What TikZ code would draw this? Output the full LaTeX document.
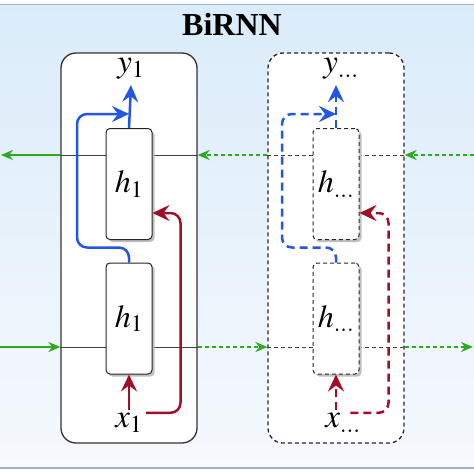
\documentclass[tikz,border=0pt]{standalone}
\usepackage{mathptmx}
\usepackage{fontspec}
\setmainfont{Liberation Serif}
\usetikzlibrary{arrows.meta,shadows,positioning,calc}

\definecolor{skytop}{RGB}{218,236,250}
\definecolor{skybot}{RGB}{246,249,253}
\definecolor{rimblue}{RGB}{160,180,210}
\definecolor{fwdblue}{RGB}{35,85,230}
\definecolor{bwdred}{RGB}{160,15,40}
\definecolor{flowgreen}{RGB}{45,170,30}

\tikzset{
  frame/.style={draw=black!80, fill=white, line width=1.3pt, rounded corners=15pt,
    minimum width=136pt, minimum height=390pt},
  cell/.style={draw=black!85, fill=white, line width=1pt, rounded corners=4pt,
    minimum width=46pt, minimum height=111pt, font=\fontsize{32}{38}\selectfont,
    general shadow={fill=black!25, shadow xshift=2.5pt, shadow yshift=-2.5pt}},
  lab/.style={font=\fontsize{33}{40}\selectfont},
  stateline/.style={draw=black!75, line width=0.9pt},
  flow/.style={draw=flowgreen, line width=1.4pt, -{Stealth[length=12pt,width=10pt]}},
  fwd/.style={draw=fwdblue, line width=2.5pt, rounded corners=10pt,
    -{Stealth[length=17pt,width=16pt,inset=6pt]}},
  bwd/.style={draw=bwdred, line width=2.5pt, rounded corners=10pt,
    -{Stealth[length=17pt,width=16pt,inset=6pt]}},
  ghost/.style={dash pattern=on 4pt off 3pt},
  longdash/.style={dash pattern=on 8pt off 5pt}
}

\begin{document}
\begin{tikzpicture}[x=1pt, y=-1pt]
  \useasboundingbox (0,0) rectangle (474,474);
  % backdrop
  \shade[top color=skytop, bottom color=skybot] (0,4) rectangle (474,468);
  \draw[rimblue, line width=1pt] (0,4) -- (474,4);
  \draw[rimblue, line width=2.5pt] (0,468) -- (474,468);
  \node[font=\fontsize{32}{38}\selectfont\bfseries] (title) at (232,24) {BiRNN};

  % time steps
  \node[frame] (fr1) at (129,248) {};
  \node[frame, ghost, draw=black!85] (fr2) at (336,248) {};

  \coordinate (upper) at (0,155);
  \coordinate (lower) at (0,347);
  \coordinate (upL) at (1,155);
  \coordinate (upR) at (474,155);
  \coordinate (lowL) at (0,347);
  \coordinate (lowR) at (473,347);

  \draw[stateline] (fr1.west |- upper) -- (fr1.east |- upper);
  \draw[stateline] (fr1.west |- lower) -- (fr1.east |- lower);
  \draw[stateline, ghost] (fr2.west |- upper) -- (fr2.east |- upper);
  \draw[stateline, ghost] (fr2.west |- lower) -- (fr2.east |- lower);

  % hidden states
  \node[cell] (hb1) at (129,184) {$h_1$};
  \node[cell] (hf1) at (129,318.5) {$h_1$};
  \node[cell, ghost] (hbn) at (336,184) {$h_{\ldots}$};
  \node[cell, ghost] (hfn) at (336,318.5) {$h_{\ldots}$};

  \node[lab] (y1) at (131,69) {$y_1$};
  \node[lab] (x1) at (129,423) {$x_1$};
  \node[lab] (yn) at (341,69) {$y_{\ldots}$};
  \node[lab] (xn) at (343,423) {$x_{\ldots}$};

  % recurrent links
  \draw[flow] (fr1.west |- upper) -- (upL);
  \draw[flow, ghost] (fr2.west |- upper) -- (fr1.east |- upper);
  \draw[flow, ghost] (upR) -- (fr2.east |- upper);
  \draw[flow] (lowL) -- (fr1.west |- lower);
  \draw[flow, ghost] (fr1.east |- lower) -- (fr2.west |- lower);
  \draw[flow, ghost] (fr2.east |- lower) -- (lowR);

  % first step
  \coordinate (m1) at ($(hb1.north)+(0,-14)$);
  \draw[fwd] (hf1.north) -- ++(0,-15) -| ([xshift=-52pt]m1) -- (m1);
  \draw[fwd] (hb1.north) -- ([yshift=-2pt]y1.south);
  \draw[bwd] (x1) -- (hf1.south);
  \draw[bwd] ([yshift=-3pt]x1.north east) -| ([xshift=28pt,yshift=-29pt]hb1.east) -- ([yshift=-29pt]hb1.east);

  % later step
  \coordinate (mn) at ($(hbn.north)+(0,-14)$);
  \draw[fwd, longdash] (hfn.north) -- ++(0,-15) -| ([xshift=-54pt]mn) -- (mn);
  \draw[fwd, longdash] (hbn.north) -- ([xshift=-5pt,yshift=-2pt]yn.south);
  \draw[bwd, longdash] ([xshift=-7pt]xn.north) -- (hfn.south);
  \draw[bwd, longdash] ([xshift=-14pt,yshift=-3pt]xn.north east) -| ([xshift=29pt,yshift=-29pt]hbn.east) -- ([yshift=-29pt]hbn.east);
\end{tikzpicture}
\end{document}
